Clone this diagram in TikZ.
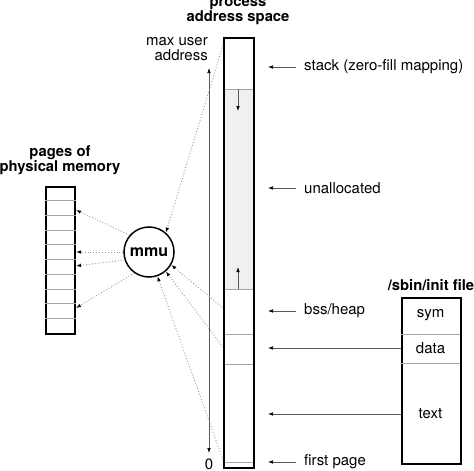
\documentclass[tikz,border=0pt]{standalone}
\usepackage{fontspec}
\setmainfont{TeX Gyre Heros}
\usetikzlibrary{arrows.meta,positioning}

\tikzset{
  txt/.style={font=\fontsize{15}{15}\selectfont, inner sep=0pt},
  heading/.style={font=\bfseries\fontsize{14.8}{15}\selectfont, align=center, inner sep=0pt},
  pointer/.style={gray!70!black, line width=0.7pt, -{Latex[length=5pt,width=3.6pt,color=black]}},
  mapping/.style={gray!80, dotted, line width=0.9pt, -{Latex[length=5pt,width=3.6pt,color=black]}},
  divider/.style={gray!70, line width=0.8pt},
  segbox/.style={draw, line width=1.5pt, inner sep=0pt, anchor=north west},
}

\begin{document}
\begin{tikzpicture}[x=1pt,y=-1pt]
  \useasboundingbox (0,0) rectangle (474,471);

  % ------ process address space -----------------------------
  \fill[gray!12] (223,89) rectangle (253,289);
  \foreach \y in {89,289,334,364,462}
    \draw[divider] (223,\y) -- (253,\y);
  \node[segbox, minimum width=30pt, minimum height=430pt] (pas) at (223,37) {};
  \node[heading] (pastitle) at (238,12) {process\\address space};
  \draw[pointer] (238,89) -- (238,111);
  \draw[pointer] (238,289) -- (238,267);

  % axis
  \node[txt, align=right, anchor=east] (maxaddr) at (208,49) {max user\\address};
  \node[txt] (zero) at (209,464) {0};
  \draw[gray!70!black, line width=0.7pt, {Latex[length=5pt,width=3.6pt,color=black]}-{Latex[length=5pt,width=3.6pt,color=black]}] (209,68) -- (209,453);

  % ------ segment labels -----------------------------
  \node[txt, anchor=west] (stack) at (304,67) {stack (zero-fill mapping)};
  \node[txt, anchor=west] (unalloc) at (304,188) {unallocated};
  \node[txt, anchor=west] (bss) at (304,311) {bss/heap};
  \node[txt, anchor=west] (first) at (304,462) {first page};
  \foreach \n in {stack,unalloc,bss,first}
    \draw[pointer] ([xshift=-8pt]\n.west) -- ++(-28,0);

  % ------ /sbin/init file -----------------------------
  \node[segbox, minimum width=59pt, minimum height=166pt] (file) at (401,297) {};
  \node[heading] (filetitle) at (431,285) {/sbin/init file};
  \foreach \y in {334,363}
    \draw[divider] (401,\y) -- (460,\y);
  \node[txt] (sym) at (430.5,315) {sym};
  \node[txt] (data) at (430.5,348) {data};
  \node[txt] (text) at (430.5,414) {text};
  \coordinate (datatgt) at (268,348);
  \coordinate (texttgt) at (268,414);
  \draw[pointer] (file.west |- datatgt) -- (datatgt);
  \draw[pointer] (file.west |- texttgt) -- (texttgt);

  % ------ physical memory -----------------------------
  \node[segbox, minimum width=29pt, minimum height=147pt] (mem) at (45,186) {};
  \foreach \i in {1,...,9}
    \draw[divider] ([yshift=-\i*14.7pt]mem.north west) -- ([yshift=-\i*14.7pt]mem.north east);
  \node[heading] (memtitle) at (60,160) {pages of\\physical memory};

  % ------ mmu -----------------------------
  \node[circle, draw, line width=1.5pt, minimum size=50pt, inner sep=0pt,
        font=\bfseries\fontsize{16}{16}\selectfont] (mmu) at (149,252) {mmu};
  \foreach \y/\a [count=\i] in {45/49, 308/-30, 347/-49, 460/-71} {
    \coordinate (src\i) at (223,\y);
    \draw[mapping] (src\i) -- (mmu.\a);
  }
  \foreach \y/\a [count=\i] in {210/139, 252/180, 266/198, 308/235} {
    \coordinate (pg\i) at (76,\y);
    \draw[mapping] (mmu.\a) -- (pg\i);
  }
\end{tikzpicture}
\end{document}
